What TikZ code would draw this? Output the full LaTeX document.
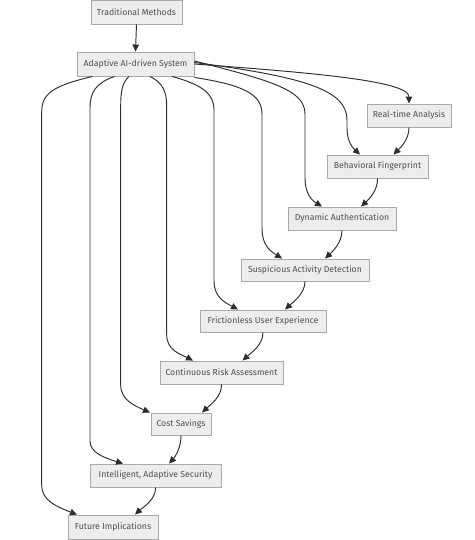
\documentclass[tikz,border=0pt]{standalone}
\usepackage{fontspec}
\setmainfont{Fira Sans}
\usetikzlibrary{arrows.meta}
\definecolor{boxfill}{HTML}{EDEDED}
\definecolor{boxline}{HTML}{AAAAAA}
\definecolor{txt}{HTML}{505050}
\definecolor{edge}{HTML}{2E2E2E}
\begin{document}
\begin{tikzpicture}[x=1pt,y=-1pt,
  box/.style={draw=boxline,fill=boxfill,line width=0.9pt,text=txt,inner sep=0pt,
    minimum height=23pt,font=\fontsize{8.7}{10}\selectfont},
  conn/.style={draw=edge,line width=0.95pt,-{Triangle[length=7pt,width=6.5pt]}}]
\useasboundingbox (0,0) rectangle (474,540);
\node[box,minimum width=91pt,minimum height=24pt] (trad) at (136.5,12) {Traditional Methods};
\node[box,minimum width=117pt,minimum height=24pt] (adapt) at (135.5,64) {Adaptive AI-driven System};
\node[box,minimum width=84pt] (rta) at (409,115.5) {Real-time Analysis};
\node[box,minimum width=101pt] (beh) at (377.5,166.5) {Behavioral Fingerprint};
\node[box,minimum width=108pt] (dyn) at (342,218.5) {Dynamic Authentication};
\node[box,minimum width=128pt,minimum height=22pt] (sus) at (305,270) {Suspicious Activity Detection};
\node[box,minimum width=126pt,minimum height=22pt] (fri) at (263,321) {Frictionless User Experience};
\node[box,minimum width=123pt] (con) at (221.5,372.5) {Continuous Risk Assessment};
\node[box,minimum width=60pt,minimum height=22pt] (cost) at (181,424) {Cost Savings};
\node[box,minimum width=131pt] (intel) at (155.5,475.5) {Intelligent, Adaptive Security};
\node[box,minimum width=90pt,minimum height=24pt] (fut) at (113,527) {Future Implications};

\draw[conn] (trad.south) -- (adapt.north);

% fan-out from the adaptive system
\draw[conn] ([xshift=-43pt]adapt.south) .. controls (52,86) and (41.7,94) .. (41.7,112)
  -- (41.7,485) .. controls (41.7,500) and (55,506) .. ([xshift=-36pt]fut.north);
\draw[conn] ([xshift=-21pt]adapt.south) .. controls (96,83) and (90,92) .. (90,108)
  -- (90,441) .. controls (90,453) and (105,458) .. ([xshift=-32.5pt]intel.north);
\draw[conn] ([xshift=-6.5pt]adapt.south) .. controls (122,83) and (120.7,92) .. (120.7,106)
  -- (120.7,385) .. controls (120.7,400) and (135,406) .. ([xshift=-31pt]cost.north);
\draw[conn] ([xshift=14.5pt]adapt.south) .. controls (163,83) and (166.7,92) .. (166.7,106)
  -- (166.7,335) .. controls (166.7,350) and (180,354) .. ([xshift=-28.5pt]con.north);
\draw[conn] ([xshift=36.5pt]adapt.south) .. controls (203,85) and (214,94) .. (214,110)
  -- (214,281) .. controls (214,298) and (226,303) .. ([xshift=-25pt]fri.north);
\draw[conn] ([yshift=-1pt]adapt.south east) .. controls (243,85) and (262,94) .. (262,114)
  -- (262,228) .. controls (262,247) and (272,252) .. ([xshift=-23pt]sus.north);
\draw[conn] ([yshift=3pt]adapt.east) .. controls (272,81) and (305,90) .. (305,114)
  -- (305,178) .. controls (305,195) and (313,201) .. ([xshift=-20pt]dyn.north);
\draw[conn] ([yshift=1.5pt]adapt.east) .. controls (305,77) and (347,90) .. (347,120)
  -- (347,128) .. controls (347,143) and (354,149) .. ([xshift=-17.5pt]beh.north);
\draw[conn] ([yshift=0pt]adapt.east) .. controls (300,72) and (409,80) .. (rta.north);

% chain
\draw[conn] (rta.south) .. controls (409,140) and (400,148) .. ([xshift=16pt]beh.north);
\draw[conn] (beh.south) .. controls (378,191) and (368,200) .. ([xshift=19pt]dyn.north);
\draw[conn] (dyn.south) .. controls (342,243) and (332,252) .. ([xshift=20pt]sus.north);
\draw[conn] (sus.south) .. controls (305,294) and (292,303) .. ([xshift=22pt]fri.north);
\draw[conn] (fri.south) .. controls (263,345) and (251,353) .. ([xshift=21pt]con.north);
\draw[conn] (con.south) .. controls (222,397) and (209,406) .. ([xshift=21pt]cost.north);
\draw[conn] (cost.south) .. controls (181,448) and (175,457) .. ([xshift=13.5pt]intel.north);
\draw[conn] (intel.south) .. controls (156,500) and (142,508) .. ([xshift=22pt]fut.north);
\end{tikzpicture}
\end{document}
